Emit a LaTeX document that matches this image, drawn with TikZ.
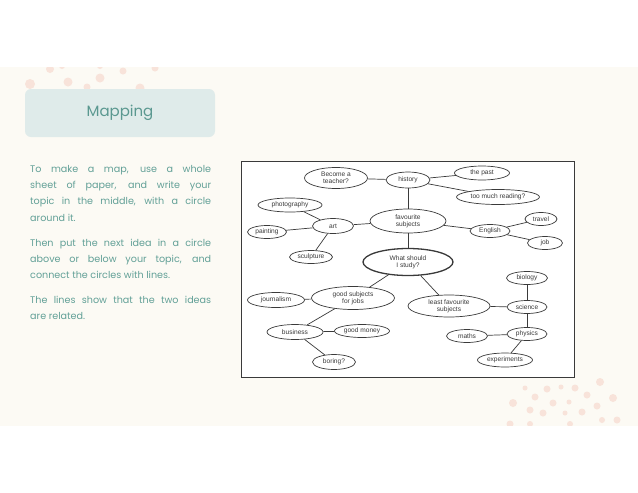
\documentclass[tikz,border=0pt]{standalone}
\usepackage{fontspec}
\setmainfont{Poppins}
\newfontfamily\mapfont{Liberation Sans}
\usetikzlibrary{shapes.geometric}

\definecolor{cream}{HTML}{FCFAF4}
\definecolor{dotpink}{HTML}{F8E3DA}
\definecolor{titlebox}{HTML}{DFEBEA}
\definecolor{tealtext}{HTML}{5A9890}
\definecolor{bodytext}{HTML}{62A097}
\definecolor{inkgray}{HTML}{3A3A3A}

\tikzset{
    bubble/.style 2 args={ellipse, draw=inkgray, line width=0.7pt, inner sep=0pt,
        minimum width=#1, minimum height=#2, align=center,
        font=\mapfont\fontsize{6.6}{7}\selectfont, text=inkgray},
    link/.style={draw=inkgray, line width=0.7pt},
    spot/.style={fill=dotpink, draw=none}
}

\begin{document}
\begin{tikzpicture}[x=1pt, y=-1pt]
    \useasboundingbox (0, 0) rectangle (638, 493);
    \fill[white] (0, 0) rectangle (638, 493);
    \fill[cream] (0, 67) rectangle (638, 426);

    % dots top left
    \foreach \px/\py/\r in {30/84/5, 50/69/4, 68/82/4.5, 87/87/3.5, 100/78/4.5, 123/71/3.5,
        140/88/4.5, 155/68/3.5, 100/66/3, 62/66/3}
    {\fill[spot] (\px, \py) circle (\r);}
    \fill[white] (0, 55) rectangle (638, 67);

    % dots bottom right
    \foreach \px/\py/\r in {525/388/2.5, 547/389/3.5, 561/387/2.5, 575/388/3.5, 600/382/4,
        513/403/4, 535/397/3.5, 553/403/3.5, 569/402/2.5, 587/395/3.5, 597/406/3.5, 613/398/4,
        530/410/3.5, 543/413/3.5, 565/413/2.5, 582/412/3.5, 602/420/3, 617/420/3.5,
        510/424/3.5, 530/424/3, 570/424/3}
    {\fill[spot] (\px, \py) circle (\r);}
    \fill[white] (0, 426) rectangle (638, 440);

    % title
    \node[fill=titlebox, rounded corners=6pt, minimum width=190pt, minimum height=48pt,
        text=tealtext, font=\fontsize{15}{17}\selectfont] (title) at(120, 113) {Mapping};

    % body text
    \node[anchor=north west, inner sep=0pt, text width=181pt, align=justify, text=bodytext,
        font=\fontsize{9.6}{16.3}\selectfont] (body) at(30, 165) {%
        To make a map, use a whole\linebreak
        sheet of paper, and write your\linebreak
        topic in the middle, with a circle\linebreak
        around it.\par\vspace{8.5pt}
        Then put the next idea in a circle\linebreak
        above or below your topic, and\linebreak
        connect the circles with lines.\par\vspace{8.5pt}
        The lines show that the two ideas\linebreak
        are related.};

    % mind map frame
    \fill[white] (241, 161) rectangle (574, 377);
    \draw[inkgray, line width=0.8pt] (241, 161) rectangle (574, 377);

    \node[bubble={90pt}{27pt}, line width=1.3pt] (study) at(408, 262) {What should\\I study?};
    \node[bubble={76pt}{24pt}] (fav) at(408, 221) {favourite\\subjects};
    \node[bubble={44pt}{16pt}] (hist) at(408, 180) {history};
    \node[bubble={63pt}{21pt}] (teach) at(336, 178) {Become a\\teacher?};
    \node[bubble={55pt}{14pt}] (past) at(482, 173) {the past};
    \node[bubble={83pt}{15pt}] (read) at(498, 197) {too much reading?};
    \node[bubble={41pt}{15pt}] (art) at(333, 226) {art};
    \node[bubble={64pt}{14pt}] (photo) at(290, 205) {photography};
    \node[bubble={39pt}{13pt}] (paint) at(267, 232) {painting};
    \node[bubble={43pt}{13pt}] (sculp) at(311, 257) {sculpture};
    \node[bubble={40pt}{13pt}] (eng) at(490, 231) {English};
    \node[bubble={32pt}{13pt}] (travel) at(541, 219) {travel};
    \node[bubble={35pt}{13pt}] (job) at(545, 243) {job};
    \node[bubble={83pt}{23pt}] (jobs) at(353, 298) {good subjects\\for jobs};
    \node[bubble={57pt}{15pt}] (journ) at(276, 300) {journalism};
    \node[bubble={56pt}{15pt}] (bus) at(295, 332) {business};
    \node[bubble={55pt}{13pt}] (money) at(362, 331) {good money};
    \node[bubble={43pt}{15pt}] (boring) at(334, 362) {boring?};
    \node[bubble={82pt}{22pt}] (least) at(449, 306) {least favourite\\subjects};
    \node[bubble={40pt}{13pt}] (sci) at(527, 307) {science};
    \node[bubble={41pt}{13pt}] (bio) at(527, 278) {biology};
    \node[bubble={40pt}{13pt}] (phys) at(527, 334) {physics};
    \node[bubble={41pt}{13pt}] (maths) at(467, 336) {maths};
    \node[bubble={55pt}{14pt}] (exp) at(505, 360) {experiments};

    \draw[link] (hist) -- (teach);
    \draw[link] (hist) -- (past);
    \draw[link] (hist) -- (read);
    \draw[link] (hist) -- (fav);
    \draw[link] (fav) -- (art);
    \draw[link] (art) -- (photo);
    \draw[link] (art) -- (paint);
    \draw[link] (art) -- (sculp);
    \draw[link] (fav) -- (eng);
    \draw[link] (eng) -- (travel);
    \draw[link] (eng) -- (job);
    \draw[link] (fav) -- (study);
    \draw[link] (study) -- (jobs);
    \draw[link] (study) -- (least);
    \draw[link] (jobs) -- (journ);
    \draw[link] (jobs) -- (bus);
    \draw[link] (bus) -- (money);
    \draw[link] (bus) -- (boring);
    \draw[link] (least) -- (sci);
    \draw[link] (sci) -- (bio);
    \draw[link] (sci) -- (phys);
    \draw[link] (phys) -- (maths);
    \draw[link] (phys) -- (exp);
\end{tikzpicture}
\end{document}
